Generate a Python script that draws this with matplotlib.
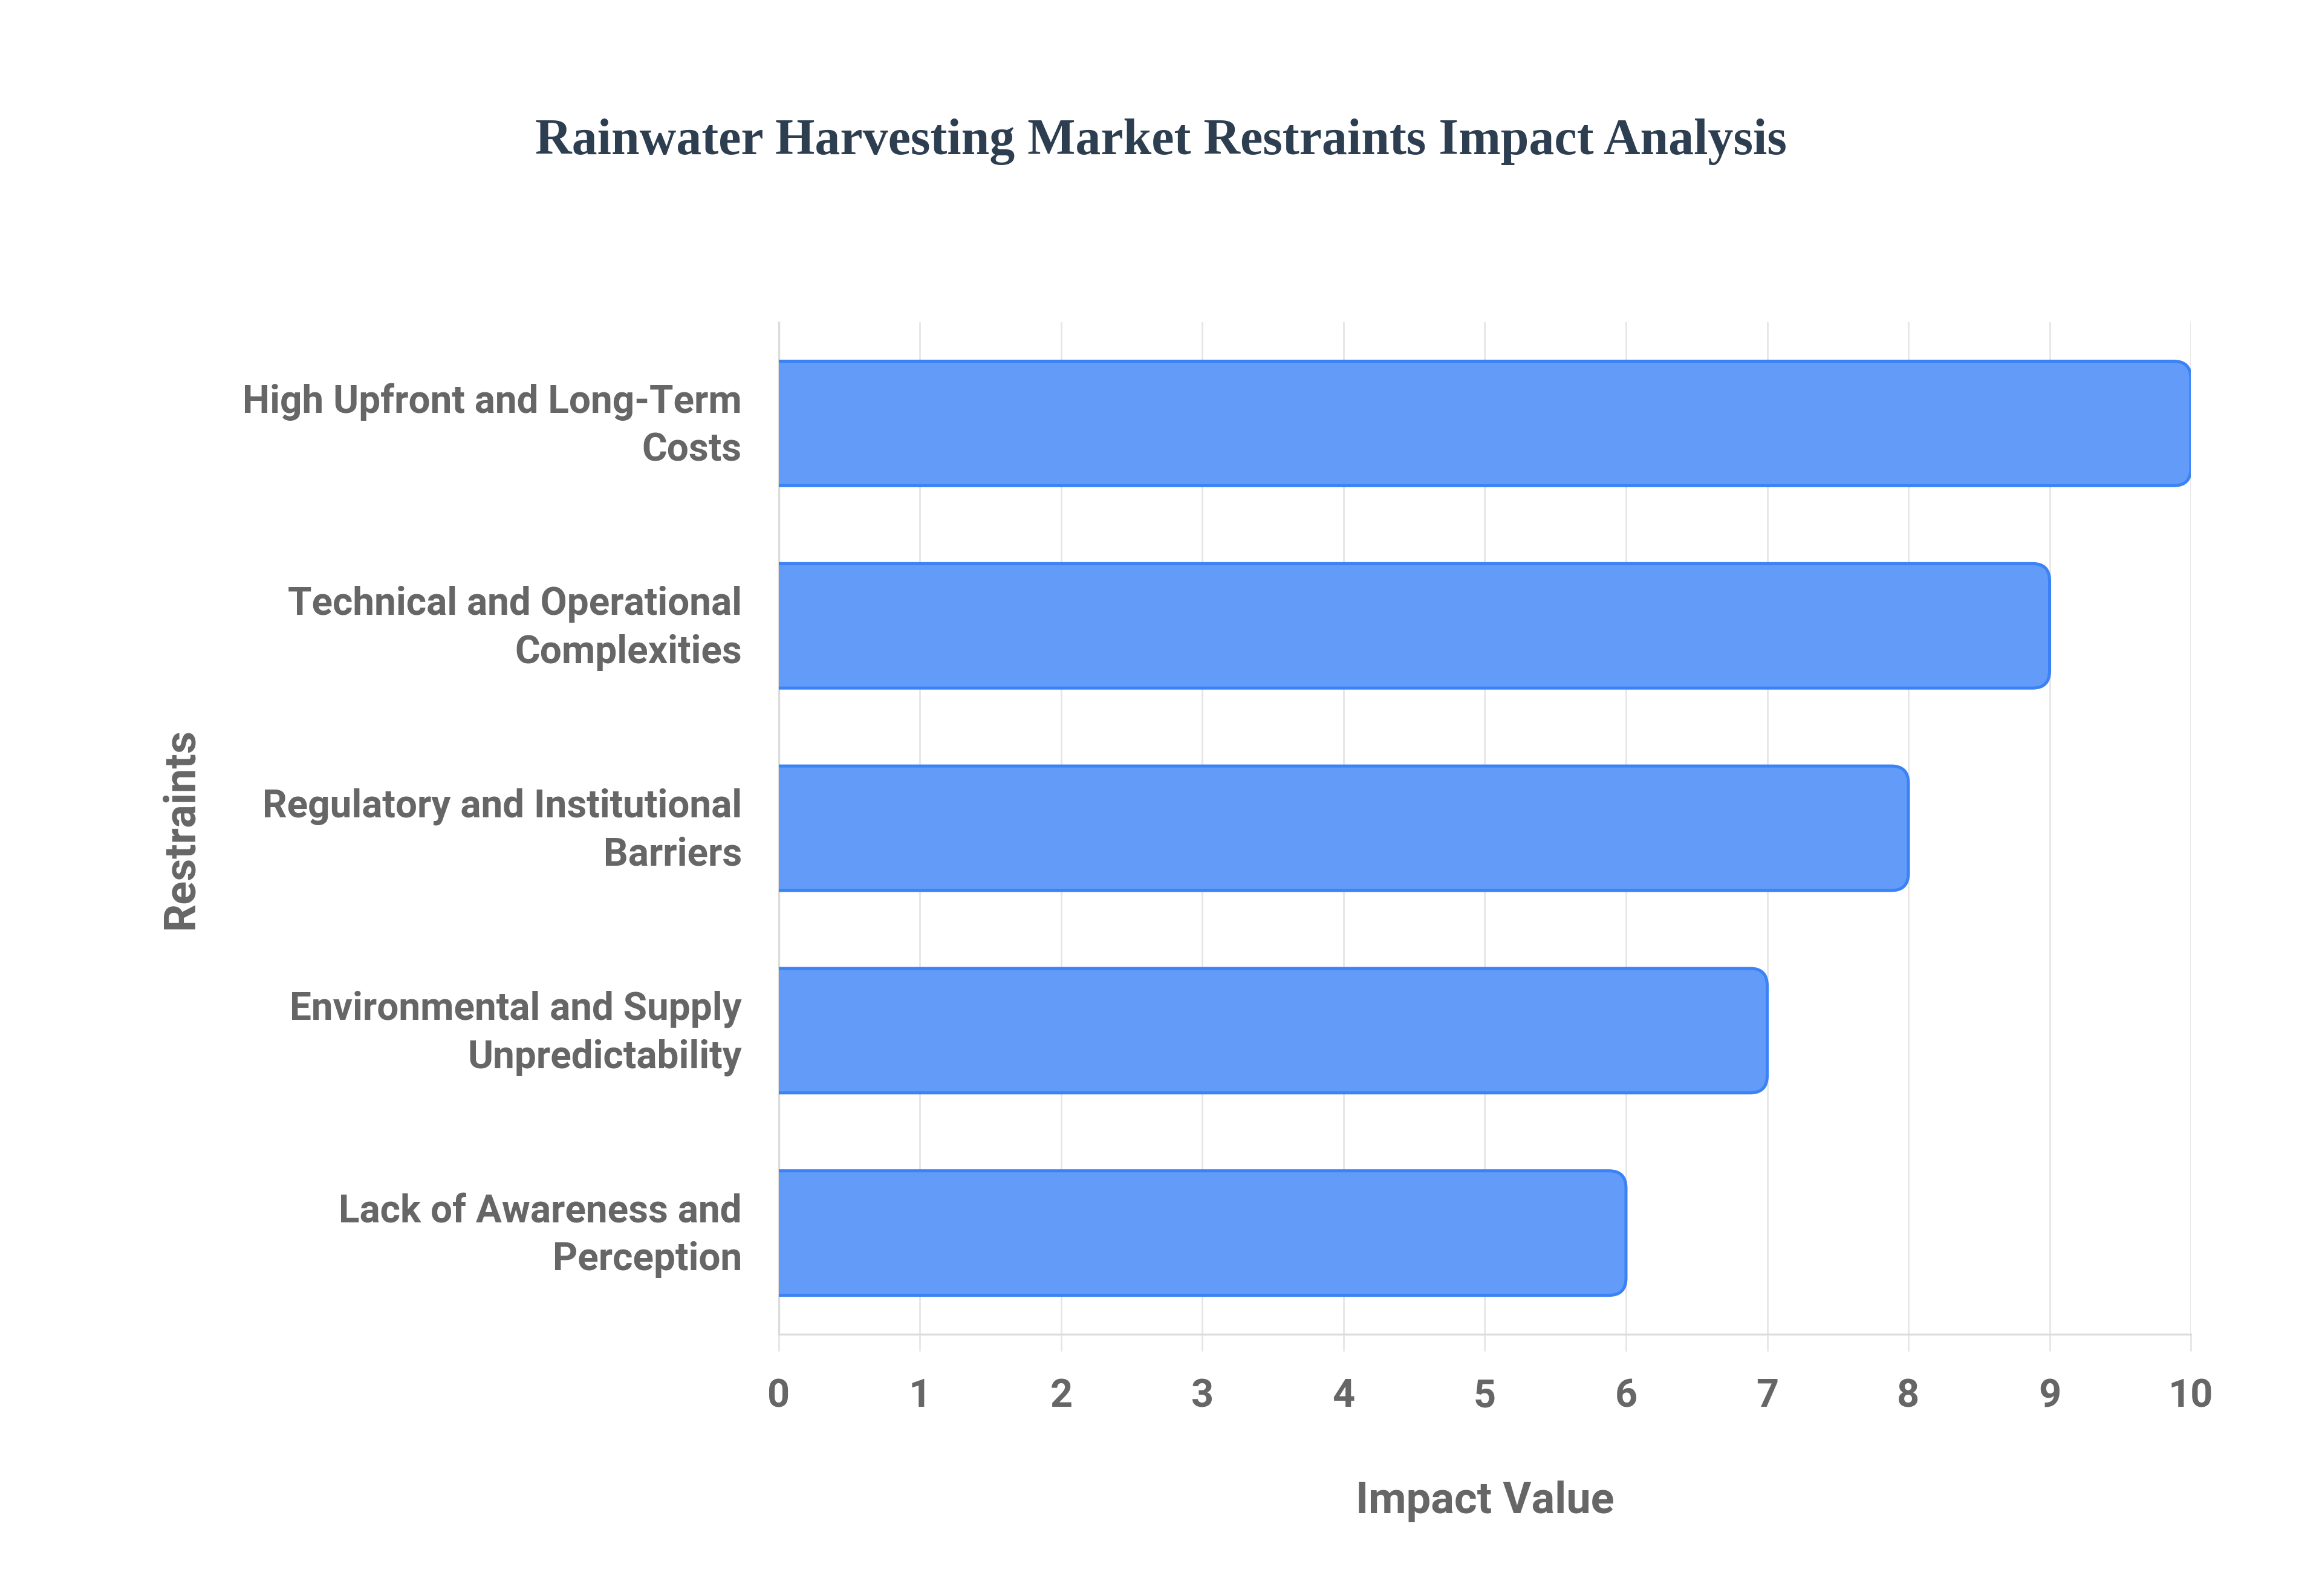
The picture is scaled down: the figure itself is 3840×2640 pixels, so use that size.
import matplotlib.pyplot as plt
import matplotlib.transforms as mtransforms
import numpy as np
from matplotlib.path import Path
from matplotlib.patches import PathPatch


restraints = [
    "High Upfront and Long-Term\nCosts",
    "Technical and Operational\nComplexities",
    "Regulatory and Institutional\nBarriers",
    "Environmental and Supply\nUnpredictability",
    "Lack of Awareness and\nPerception",
]
impact = [10, 9, 8, 7, 6]
x_ticks = list(range(0, 11))

FILL = "#629bf8"
EDGE = "#3b82f6"
GRID = "#e6e6e6"
TEXT = "#666666"
SANS = "Roboto"


def rounded_bar(ax, rect, rx, ry):
    # flat on the axis side, rounded at the value end
    x0, y0 = rect.get_x(), rect.get_y()
    x1, y1 = x0 + rect.get_width(), y0 + rect.get_height()
    verts = [
        (x0, y0), (x1 - rx, y0), (x1, y0), (x1, y0 + ry),
        (x1, y1 - ry), (x1, y1), (x1 - rx, y1), (x0, y1),
    ]
    codes = [Path.MOVETO, Path.LINETO, Path.CURVE3, Path.CURVE3,
             Path.LINETO, Path.CURVE3, Path.CURVE3, Path.LINETO]
    patch = PathPatch(Path(verts, codes), facecolor=FILL, edgecolor=EDGE,
                      lw=0.9, zorder=3, joinstyle="round")
    ax.add_patch(patch)
    rect.set_visible(False)


fig = plt.figure(figsize=(9.6, 6.6), dpi=400)
ax = fig.add_axes([0.3354, 0.1640, 0.6081, 0.6341])

y = np.arange(len(restraints))
bars = ax.barh(y, impact, height=0.615)
for r in bars:
    rounded_bar(ax, r, rx=0.12, ry=0.085)

ax.set_xlim(0, 10)
ax.set_ylim(len(restraints) - 0.5, -0.5)
ax.set_xticks(x_ticks)
ax.set_yticks(y)
ax.set_yticklabels(restraints, ha="right", linespacing=1.4)
ax.grid(axis="x", color=GRID, lw=0.5, zorder=0)
ax.set_axisbelow(True)

for side in ("top", "right"):
    ax.spines[side].set_visible(False)
for side in ("left", "bottom"):
    ax.spines[side].set_color("#dcdcdc")
    ax.spines[side].set_linewidth(0.6)

ax.tick_params(axis="x", length=5, width=0.5, color=GRID, pad=8,
               labelsize=11.7, labelcolor=TEXT)
ax.tick_params(axis="y", length=0, pad=11, labelsize=11.5, labelcolor=TEXT)
for lab in ax.get_xticklabels() + ax.get_yticklabels():
    lab.set_fontfamily(SANS)
    lab.set_fontweight("bold")

# category labels sit a touch above the bar centre
shift = mtransforms.ScaledTranslation(0, 3 / 100, fig.dpi_scale_trans)
for lab in ax.get_yticklabels():
    lab.set_transform(lab.get_transform() + shift)

ax.set_xlabel("Impact Value", fontsize=13, fontweight="bold", color=TEXT,
              fontfamily=SANS)
ax.xaxis.label.set_va("baseline")
ax.xaxis.set_label_coords(0.5, -0.1768)
ax.set_ylabel("Restraints", fontsize=13, fontweight="bold", color=TEXT,
              fontfamily=SANS)
ax.yaxis.label.set_va("center")
ax.yaxis.set_label_coords(-(1288 - 299) / 2335, 0.5)

fig.text(0.5, 1 - 255 / 2640, "Rainwater Harvesting Market Restraints Impact Analysis",
         ha="center", va="baseline", fontsize=15.1, fontweight="bold",
         color="#2c3e50", fontfamily="Liberation Serif")

fig.savefig("out.png", dpi=400, facecolor="white")
